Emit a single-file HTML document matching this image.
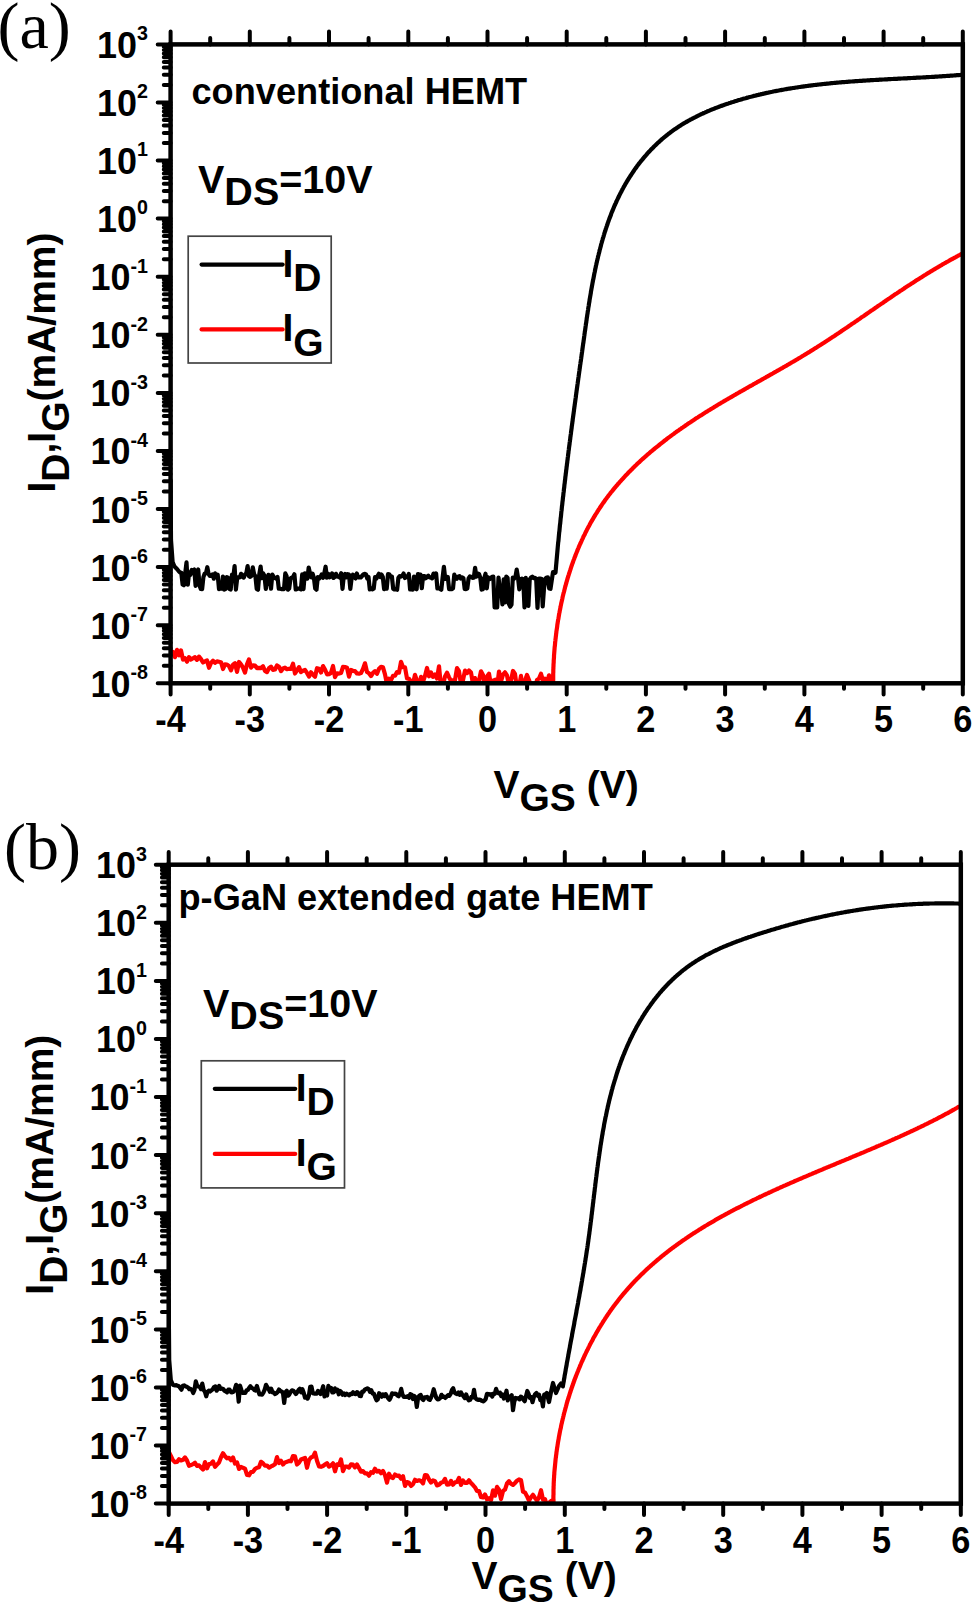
<!DOCTYPE html>
<html><head><meta charset="utf-8"><title>ID, IG vs VGS</title>
<style>html,body{margin:0;padding:0;background:#fff;width:974px;height:1605px;overflow:hidden}svg{display:block}</style>
</head><body>
<svg width="974" height="1605" viewBox="0 0 974 1605" font-family='"Liberation Sans", Arial, sans-serif' font-weight="bold" fill="#000">
<rect width="974" height="1605" fill="#fff"/>
<clipPath id="clipa"><rect x="170.6" y="44.4" width="792.2" height="638.9"/></clipPath>
<g clip-path="url(#clipa)" fill="none" stroke-width="4.2" stroke-linejoin="round" stroke-linecap="round">
<polyline stroke="#ff0000" points="171,651.7 173,651.8 175,657.2 177,649.9 179,655.4 181,650.4 183,659.6 185,658.3 187,661.7 189,657.2 191,659.6 193,658.3 195,657.2 197,659.9 199,656.6 201,659.1 203,662.5 205,661.4 207,660.4 209,667.8 211,662.9 213,660.8 215,662.9 217,661.4 219,661.8 221,662.2 223,669 225,664.4 227,664.5 229,666.2 231,670.3 233,664.7 235,663.2 237,671.9 239,662 241,664.3 243,667.6 245,672.6 247,664.2 249,659.4 251,667.6 253,665.3 255,665.6 257,668.1 259,667.8 261,668.1 263,666.2 265,670.9 267,672.1 269,668.2 271,666.6 273,669.8 275,669.5 277,665.4 279,666.7 281,671.1 283,668.5 285,667.7 287,669.2 289,668.8 291,669 293,663.7 295,673.5 297,670.3 299,667.1 301,672.1 303,670.8 305,670 307,672.9 309,676.6 311,672.3 313,674.8 315,676.7 317,668.2 319,668.8 321,672.5 323,666.1 325,669.5 327,674.3 329,674.1 331,672.9 333,666 335,677.1 337,673.3 339,673.6 341,673 343,666.9 345,667.1 347,667.8 349,676.6 351,670 353,671 355,671.2 357,673.5 359,673.7 361,673.1 363,668.9 365,663.3 367,672 369,673.2 371,676.1 373,672.8 375,671.1 377,673.8 379,668.7 381,666.9 383,667.4 385,674.3 387,684.4 389,678.7 391,680.2 393,675.8 395,675.7 397,672.1 399,672.7 401,661.8 403,667.2 405,667.4 407,678.5 409,678.8 411,681.5 413,684 415,674.8 417,681 419,686.4 421,676.9 423,681.8 425,675.9 427,668 429,676.3 431,672.4 433,676.9 435,674.6 437,678.5 439,666.3 441,686.9 443,685.3 445,676.4 447,672.7 449,677.1 451,681.1 453,680.3 455,680.1 457,668 459,671.2 461,684.3 463,680 465,670.6 467,673.1 469,670.5 471,672.5 473,684.1 475,678.1 477,684.5 479,680.4 481,671.3 483,674.9 485,690.7 487,676.4 489,673.6 491,685.4 493,680.7 495,679.8 497,687.5 499,671.5 501,681.4 503,674.7 505,672.3 507,675.3 509,686 511,680.4 513,671 515,674 517,688.2 519,687.1 521,675.9 523,693.4 525,680.5 527,674.9 529,680 531,686.2 533,690.5 535,687.9 537,680 539,678.6 541,673.8 543,680.7 545,678.7 547,683 549,675.4 551,678.6 552.6,690 553.2,690.1 553.2,688.8 553.2,687.6 553.2,686.3 553.1,685.1 553.1,683.8 553.1,682.6 553.1,681.3 553.2,680 553.2,678.8 553.2,677.5 553.2,676.2 553.2,675 553.2,673.7 553.3,672.4 553.3,671.2 553.3,669.9 553.4,668.6 553.4,667.4 553.5,666.1 553.5,664.8 553.6,663.5 553.7,662.3 553.7,661 553.8,659.7 553.9,658.4 554,657.1 554,655.9 554.1,654.6 554.2,653.3 554.3,652 554.4,650.8 554.5,649.5 554.6,648.2 554.7,646.9 554.9,645.6 555,644.3 555.1,643.1 555.2,641.8 555.4,640.5 555.5,639.2 555.7,637.9 555.8,636.7 556,635.4 556.1,634.1 556.3,632.8 556.4,631.5 556.6,630.3 556.8,629 557,627.7 557.2,626.4 557.3,625.1 557.5,623.9 557.7,622.6 557.9,621.3 558.1,620 558.4,618.7 558.6,617.5 558.8,616.2 559,614.9 559.2,613.6 559.5,612.4 559.7,611.1 560,609.8 560.2,608.6 560.5,607.3 560.7,606 561,604.8 561.2,603.5 561.5,602.2 561.8,601 562.1,599.7 562.4,598.4 562.6,597.2 562.9,595.9 563.2,594.7 563.5,593.4 563.9,592.1 564.2,590.9 564.5,589.6 564.8,588.4 565.1,587.1 565.5,585.9 565.8,584.7 566.2,583.4 566.5,582.2 566.9,580.9 567.2,579.7 567.6,578.5 568,577.2 568.3,576 568.7,574.8 569.1,573.5 569.5,572.3 569.9,571.1 570.3,569.9 570.7,568.6 571.1,567.4 571.5,566.2 571.9,565 572.3,563.8 572.8,562.6 573.2,561.4 573.6,560.2 574.1,559 574.5,557.8 575,556.6 575.5,555.4 575.9,554.2 576.4,553 576.9,551.8 577.4,550.6 577.8,549.4 578.3,548.3 578.8,547.1 579.3,545.9 579.8,544.7 580.4,543.6 580.9,542.4 581.4,541.3 581.9,540.1 582.5,538.9 583,537.8 583.5,536.6 584.1,535.5 584.7,534.4 585.2,533.2 585.8,532.1 586.4,531 586.9,529.8 587.5,528.7 588.1,527.6 588.7,526.5 589.3,525.4 589.9,524.2 590.5,523.1 591.1,522 591.8,520.9 592.4,519.8 593,518.8 593.7,517.7 594.3,516.6 595,515.5 595.6,514.4 596.3,513.4 597,512.3 597.6,511.2 598.3,510.2 599,509.1 599.7,508.1 600.4,507 601.1,506 601.8,504.9 602.5,503.9 603.2,502.9 604,501.9 604.7,500.8 605.4,499.8 606.2,498.8 606.9,497.8 607.7,496.8 608.4,495.8 609.2,494.8 610,493.8 610.7,492.8 611.5,491.8 612.3,490.9 613.1,489.9 613.9,488.9 614.7,487.9 615.5,487 616.3,486 617.1,485.1 617.9,484.1 618.8,483.2 619.6,482.2 620.4,481.3 621.3,480.3 622.1,479.4 623,478.5 623.8,477.6 624.7,476.6 625.5,475.7 626.4,474.8 627.3,473.9 628.1,473 629,472.1 629.9,471.2 630.8,470.3 631.7,469.4 632.6,468.5 633.5,467.6 634.4,466.7 635.3,465.8 636.2,465 637.1,464.1 638,463.2 639,462.4 639.9,461.5 640.8,460.6 641.7,459.8 642.7,458.9 643.6,458.1 644.6,457.2 645.5,456.4 646.5,455.6 647.4,454.7 648.4,453.9 649.4,453.1 650.3,452.2 651.3,451.4 652.3,450.6 653.2,449.8 654.2,449 655.2,448.2 656.2,447.4 657.2,446.6 658.2,445.8 659.2,445 660.2,444.2 661.2,443.4 662.2,442.6 663.2,441.8 664.2,441 665.2,440.2 666.2,439.5 667.2,438.7 668.2,437.9 669.3,437.1 670.3,436.4 671.3,435.6 672.3,434.9 673.4,434.1 674.4,433.3 675.4,432.6 676.5,431.8 677.5,431.1 678.6,430.4 679.6,429.6 680.7,428.9 681.7,428.1 682.8,427.4 683.8,426.7 684.9,426 685.9,425.2 687,424.5 688,423.8 689.1,423.1 690.2,422.4 691.2,421.7 692.3,420.9 693.4,420.2 694.5,419.5 695.5,418.8 696.6,418.1 697.7,417.4 698.7,416.7 699.8,416 700.9,415.4 702,414.7 703.1,414 704.2,413.3 705.2,412.6 706.3,411.9 707.4,411.3 708.5,410.6 709.6,409.9 710.7,409.2 711.8,408.6 712.9,407.9 714,407.2 715.1,406.6 716.1,405.9 717.2,405.3 718.3,404.6 719.4,403.9 720.5,403.3 721.6,402.6 722.7,402 723.8,401.3 724.9,400.7 726,400 727.1,399.4 728.3,398.7 729.4,398.1 730.5,397.4 731.6,396.8 732.7,396.2 733.8,395.5 734.9,394.9 736,394.2 737.1,393.6 738.2,393 739.3,392.3 740.4,391.7 741.6,391.1 742.7,390.4 743.8,389.8 744.9,389.2 746,388.5 747.1,387.9 748.2,387.3 749.3,386.6 750.4,386 751.6,385.4 752.7,384.8 753.8,384.1 754.9,383.5 756,382.9 757.1,382.2 758.2,381.6 759.4,381 760.5,380.4 761.6,379.7 762.7,379.1 763.8,378.5 764.9,377.9 766,377.2 767.1,376.6 768.3,376 769.4,375.3 770.5,374.7 771.6,374.1 772.7,373.5 773.8,372.8 774.9,372.2 776,371.6 777.1,370.9 778.2,370.3 779.4,369.7 780.5,369 781.6,368.4 782.7,367.8 783.8,367.1 784.9,366.5 786,365.9 787.1,365.2 788.2,364.6 789.3,363.9 790.4,363.3 791.5,362.6 792.6,362 793.7,361.4 794.8,360.7 795.9,360.1 797,359.4 798.1,358.8 799.2,358.1 800.3,357.5 801.4,356.8 802.4,356.1 803.5,355.5 804.6,354.8 805.7,354.2 806.8,353.5 807.9,352.8 809,352.2 810.1,351.5 811.1,350.8 812.2,350.2 813.3,349.5 814.4,348.8 815.5,348.1 816.5,347.5 817.6,346.8 818.7,346.1 819.7,345.4 820.8,344.7 821.9,344 823,343.4 824,342.7 825.1,342 826.2,341.3 827.2,340.6 828.3,339.9 829.3,339.2 830.4,338.5 831.5,337.8 832.5,337.1 833.6,336.4 834.7,335.7 835.7,335 836.8,334.3 837.8,333.6 838.9,332.9 839.9,332.2 841,331.5 842,330.7 843.1,330 844.2,329.3 845.2,328.6 846.3,327.9 847.3,327.2 848.4,326.5 849.4,325.7 850.5,325 851.5,324.3 852.6,323.6 853.6,322.9 854.7,322.2 855.7,321.4 856.8,320.7 857.8,320 858.9,319.3 859.9,318.6 860.9,317.8 862,317.1 863,316.4 864.1,315.7 865.1,315 866.2,314.2 867.2,313.5 868.3,312.8 869.3,312.1 870.4,311.3 871.4,310.6 872.5,309.9 873.5,309.2 874.6,308.5 875.6,307.7 876.7,307 877.7,306.3 878.8,305.6 879.8,304.9 880.9,304.1 881.9,303.4 883,302.7 884,302 885.1,301.3 886.1,300.5 887.2,299.8 888.2,299.1 889.3,298.4 890.3,297.7 891.4,297 892.4,296.2 893.5,295.5 894.5,294.8 895.6,294.1 896.7,293.4 897.7,292.7 898.8,292 899.8,291.3 900.9,290.6 902,289.9 903,289.2 904.1,288.5 905.1,287.7 906.2,287 907.3,286.3 908.3,285.6 909.4,285 910.5,284.3 911.5,283.6 912.6,282.9 913.7,282.2 914.8,281.5 915.8,280.8 916.9,280.1 918,279.4 919.1,278.7 920.1,278.1 921.2,277.4 922.3,276.7 923.4,276 924.5,275.3 925.5,274.7 926.6,274 927.7,273.3 928.8,272.7 929.9,272 931,271.3 932.1,270.7 933.2,270 934.3,269.3 935.4,268.7 936.5,268 937.6,267.4 938.7,266.7 939.8,266.1 940.9,265.4 942,264.8 943.1,264.1 944.2,263.5 945.3,262.9 946.4,262.2 947.6,261.6 948.7,261 949.8,260.3 950.9,259.7 952,259.1 953.2,258.5 954.3,257.9 955.4,257.3 956.6,256.6 957.7,256 958.8,255.4 960,254.8 961.1,254.2 962.3,253.6"/>
<polyline stroke="#000" points="170.6,480 171,540 172.6,562 174.5,566.5 177,569 179,571.5 180,572.4 181.3,572.7 182.6,584.4 183.9,585.2 185.2,573.5 186.5,562.4 187.8,584.7 189.1,572.5 190.4,574.8 191.7,570 193,570.6 194.3,569.5 195.6,585.8 196.9,573.6 198.2,569.4 199.5,585.5 200.8,589 202.1,589.2 203.4,577.1 204.7,573.5 206,573.3 207.3,567.2 208.6,574.1 209.9,575.9 211.2,576 212.5,574.4 213.8,578.7 215.1,573.4 216.4,576.1 217.7,574.7 219,589.1 220.3,588.5 221.6,588.6 222.9,576.5 224.2,589.6 225.5,589.1 226.8,577.2 228.1,577.7 229.4,589.1 230.7,589.5 232,574.6 233.3,577.2 234.6,566.1 235.9,589.6 237.2,577.9 238.5,577.2 239.8,577.4 241.1,573.8 242.4,576.8 243.7,577.6 245,574.6 246.3,573.4 247.6,566.1 248.9,576.1 250.2,576.8 251.5,575.8 252.8,567.4 254.1,574.2 255.4,576.1 256.7,588.9 258,589.7 259.3,574.3 260.6,566.5 261.9,578.2 263.2,573.3 264.5,576 265.8,588.9 267.1,578.7 268.4,574.8 269.7,578.6 271,588.7 272.3,574.5 273.6,576.8 274.9,578 276.2,578.7 277.5,577 278.8,588.7 280.1,588.7 281.4,589.1 282.7,589.2 284,589.1 285.3,573.3 286.6,576.1 287.9,589.6 289.2,588.4 290.5,578.4 291.8,577.7 293.1,576.9 294.4,574.3 295.7,589.5 297,589 298.3,588.6 299.6,588.7 300.9,589.4 302.2,574.4 303.5,589.1 304.8,573.4 306.1,575.9 307.4,578.5 308.7,567.5 310,573.5 311.3,577.4 312.6,573.7 313.9,577.8 315.2,588.5 316.5,589.7 317.8,577.1 319.1,578.7 320.4,577 321.7,574.5 323,577.8 324.3,573.3 325.6,566.7 326.9,577.7 328.2,573.8 329.5,577.3 330.8,576.4 332.1,573.4 333.4,577.9 334.7,577 336,573.8 337.3,576.6 338.6,576.5 339.9,577.6 341.2,573.2 342.5,588.9 343.8,575.8 345.1,573.9 346.4,577.4 347.7,574.2 349,574.6 350.3,588.9 351.6,578.3 352.9,574.7 354.2,577 355.5,578.4 356.8,573.5 358.1,577.3 359.4,577.3 360.7,577.5 362,576 363.3,574.5 364.6,573.9 365.9,574.2 367.2,578.5 368.5,577.1 369.8,589.5 371.1,588.3 372.4,589.3 373.7,588.7 375,577.2 376.3,578.7 377.6,576.1 378.9,573.8 380.2,577 381.5,574.5 382.8,577 384.1,589.1 385.4,588.3 386.7,588.7 388,574.2 389.3,574.3 390.6,576.3 391.9,576.5 393.2,588.9 394.5,589.5 395.8,589 397.1,589.7 398.4,577.8 399.7,576.1 401,576.7 402.3,575.7 403.6,573.5 404.9,578 406.2,576.7 407.5,577.1 408.8,574 410.1,589.5 411.4,589.5 412.7,589.6 414,576.7 415.3,588.4 416.6,589.2 417.9,574.1 419.2,574.5 420.5,574.6 421.8,588.2 423.1,576 424.4,576.2 425.7,578.3 427,576.8 428.3,575.7 429.6,577.4 430.9,577.5 432.2,578.4 433.5,573.6 434.8,576.6 436.1,573.4 437.4,588.5 438.7,588.4 440,588.9 441.3,589.7 442.6,577.8 443.9,566.8 445.2,578.8 446.5,576.7 447.8,577 449.1,589.1 450.4,589.1 451.7,589.1 453,588.4 454.3,574.7 455.6,577.4 456.9,578.7 458.2,576.7 459.5,576.1 460.8,578.5 462.1,577.4 463.4,578.1 464.7,588.9 466,589.1 467.3,588.6 468.6,578.3 469.9,576.3 471.2,576.9 472.5,577.9 473.8,577.7 475.1,567.8 476.4,576.7 477.7,573.6 479,574 480.3,577.8 481.6,589.6 482.9,589.2 484.2,578.5 485.5,573.7 486.8,588.3 488.1,577.3 489.4,579.3 490.7,578.3 492,576.8 493.3,576.7 494.6,607.5 495.9,607.3 497.2,607.4 498.5,577.6 499.8,588.8 501.1,588.7 502.4,604.4 503.7,579.3 505,602.5 506.3,576.7 507.6,577.8 508.9,603.8 510.2,606.7 511.5,604.6 512.8,577.5 514.1,578.6 515.4,577 516.7,569.5 518,577.5 519.3,589.3 520.6,579.2 521.9,578.6 523.2,579.2 524.5,607.3 525.8,577.9 527.1,588.8 528.4,605.8 529.7,579.4 531,577.6 532.3,576.7 533.6,578.2 534.9,577.8 536.2,579.2 537.5,607.8 538.8,578.7 540.1,578.7 541.4,578.8 542.7,606.4 544,588.4 545.3,578.8 546.6,577.5 547.9,577.4 549.2,588.4 550.5,588.8 553,572 555.1,572.9 555.5,572.7 555.6,571.5 555.7,570.4 555.8,569.3 555.9,568.1 556,567 556.1,565.9 556.2,564.7 556.3,563.6 556.4,562.5 556.5,561.3 556.6,560.2 556.7,559.1 556.8,558 556.9,556.8 557,555.7 557.1,554.6 557.2,553.5 557.3,552.3 557.4,551.2 557.5,550.1 557.6,549 557.7,547.9 557.8,546.7 557.9,545.6 558,544.5 558.1,543.4 558.2,542.3 558.4,541.2 558.5,540.1 558.6,539 558.7,537.8 558.8,536.7 558.9,535.6 559,534.5 559.1,533.4 559.2,532.3 559.4,531.2 559.5,530.1 559.6,529 559.7,527.9 559.8,526.8 559.9,525.7 560,524.6 560.2,523.5 560.3,522.4 560.4,521.3 560.5,520.2 560.6,519.1 560.7,518 560.9,516.9 561,515.8 561.1,514.7 561.2,513.6 561.3,512.5 561.4,511.4 561.6,510.3 561.7,509.2 561.8,508.1 561.9,507 562,506 562.2,504.9 562.3,503.8 562.4,502.7 562.5,501.6 562.7,500.5 562.8,499.4 562.9,498.3 563,497.2 563.2,496.2 563.3,495.1 563.4,494 563.5,492.9 563.7,491.8 563.8,490.7 563.9,489.7 564,488.6 564.2,487.5 564.3,486.4 564.4,485.3 564.5,484.3 564.7,483.2 564.8,482.1 564.9,481 565.1,479.9 565.2,478.9 565.3,477.8 565.4,476.7 565.6,475.6 565.7,474.5 565.8,473.5 566,472.4 566.1,471.3 566.2,470.2 566.4,469.2 566.5,468.1 566.6,467 566.8,465.9 566.9,464.9 567,463.8 567.2,462.7 567.3,461.6 567.4,460.6 567.6,459.5 567.7,458.4 567.8,457.3 568,456.3 568.1,455.2 568.2,454.1 568.4,453 568.5,452 568.6,450.9 568.8,449.8 568.9,448.8 569,447.7 569.2,446.6 569.3,445.5 569.5,444.5 569.6,443.4 569.7,442.3 569.9,441.3 570,440.2 570.2,439.1 570.3,438 570.4,437 570.6,435.9 570.7,434.8 570.9,433.8 571,432.7 571.1,431.6 571.3,430.5 571.4,429.5 571.6,428.4 571.7,427.3 571.8,426.3 572,425.2 572.1,424.1 572.3,423 572.4,422 572.6,420.9 572.7,419.8 572.8,418.8 573,417.7 573.1,416.6 573.3,415.5 573.4,414.5 573.6,413.4 573.7,412.3 573.9,411.2 574,410.2 574.1,409.1 574.3,408 574.4,407 574.6,405.9 574.7,404.8 574.9,403.7 575,402.7 575.2,401.6 575.3,400.5 575.5,399.4 575.6,398.4 575.8,397.3 575.9,396.2 576,395.1 576.2,394.1 576.3,393 576.5,391.9 576.6,390.8 576.8,389.7 576.9,388.7 577.1,387.6 577.2,386.5 577.4,385.4 577.5,384.3 577.7,383.3 577.8,382.2 578,381.1 578.1,380 578.3,378.9 578.4,377.9 578.6,376.8 578.7,375.7 578.9,374.6 579,373.5 579.2,372.4 579.3,371.4 579.5,370.3 579.6,369.2 579.8,368.1 579.9,367 580.1,365.9 580.2,364.8 580.4,363.8 580.5,362.7 580.7,361.6 580.9,360.5 581,359.4 581.2,358.3 581.3,357.2 581.5,356.1 581.6,355 581.8,353.9 581.9,352.9 582.1,351.8 582.2,350.7 582.4,349.6 582.5,348.5 582.7,347.4 582.8,346.3 583,345.2 583.1,344.1 583.3,343 583.5,341.9 583.6,340.8 583.8,339.7 583.9,338.6 584.1,337.5 584.2,336.4 584.4,335.3 584.5,334.2 584.7,333.1 584.8,331.9 585,330.8 585.2,329.7 585.3,328.6 585.5,327.5 585.6,326.4 585.8,325.3 585.9,324.2 586.1,323.1 586.3,322 586.4,320.9 586.6,319.8 586.7,318.6 586.9,317.5 587.1,316.4 587.2,315.3 587.4,314.2 587.6,313.1 587.7,312 587.9,310.9 588.1,309.8 588.2,308.7 588.4,307.5 588.6,306.4 588.8,305.3 588.9,304.2 589.1,303.1 589.3,302 589.5,300.9 589.6,299.8 589.8,298.7 590,297.6 590.2,296.4 590.4,295.3 590.6,294.2 590.8,293.1 590.9,292 591.1,290.9 591.3,289.8 591.5,288.7 591.7,287.6 591.9,286.5 592.1,285.4 592.3,284.3 592.5,283.2 592.7,282.1 592.9,281 593.1,279.9 593.4,278.8 593.6,277.7 593.8,276.6 594,275.5 594.2,274.4 594.4,273.3 594.7,272.2 594.9,271.1 595.1,270 595.3,268.9 595.6,267.8 595.8,266.7 596,265.6 596.3,264.5 596.5,263.4 596.8,262.3 597,261.2 597.3,260.2 597.5,259.1 597.8,258 598,256.9 598.3,255.8 598.6,254.7 598.8,253.7 599.1,252.6 599.4,251.5 599.6,250.4 599.9,249.4 600.2,248.3 600.5,247.2 600.8,246.2 601,245.1 601.3,244 601.6,243 601.9,241.9 602.2,240.8 602.5,239.8 602.8,238.7 603.1,237.7 603.5,236.6 603.8,235.5 604.1,234.5 604.4,233.4 604.7,232.4 605.1,231.3 605.4,230.3 605.7,229.3 606.1,228.2 606.4,227.2 606.8,226.1 607.1,225.1 607.5,224.1 607.8,223 608.2,222 608.6,221 608.9,220 609.3,218.9 609.7,217.9 610.1,216.9 610.5,215.9 610.9,214.9 611.2,213.8 611.6,212.8 612,211.8 612.5,210.8 612.9,209.8 613.3,208.8 613.7,207.8 614.1,206.8 614.5,205.8 615,204.8 615.4,203.9 615.9,202.9 616.3,201.9 616.7,200.9 617.2,199.9 617.7,198.9 618.1,198 618.6,197 619.1,196 619.5,195.1 620,194.1 620.5,193.1 621,192.2 621.5,191.2 622,190.3 622.5,189.3 623,188.4 623.5,187.4 624,186.5 624.6,185.6 625.1,184.6 625.6,183.7 626.2,182.8 626.7,181.8 627.3,180.9 627.8,180 628.4,179.1 629,178.2 629.5,177.3 630.1,176.4 630.7,175.5 631.3,174.6 631.9,173.7 632.5,172.8 633.1,171.9 633.7,171 634.3,170.1 634.9,169.2 635.5,168.3 636.2,167.5 636.8,166.6 637.4,165.7 638.1,164.9 638.7,164 639.4,163.2 640.1,162.3 640.7,161.5 641.4,160.6 642.1,159.8 642.8,159 643.5,158.1 644.1,157.3 644.8,156.5 645.6,155.7 646.3,154.9 647,154 647.7,153.2 648.4,152.4 649.2,151.7 649.9,150.9 650.6,150.1 651.4,149.3 652.1,148.5 652.9,147.8 653.6,147 654.4,146.2 655.2,145.5 656,144.7 656.7,144 657.5,143.2 658.3,142.5 659.1,141.8 659.9,141.1 660.7,140.3 661.5,139.6 662.3,138.9 663.2,138.2 664,137.5 664.8,136.8 665.7,136.1 666.5,135.5 667.3,134.8 668.2,134.1 669.1,133.5 669.9,132.8 670.8,132.1 671.7,131.5 672.5,130.9 673.4,130.2 674.3,129.6 675.2,129 676.1,128.4 677,127.8 677.9,127.2 678.8,126.6 679.7,126 680.6,125.4 681.5,124.8 682.5,124.2 683.4,123.7 684.3,123.1 685.3,122.6 686.2,122 687.2,121.5 688.1,120.9 689.1,120.4 690,119.9 691,119.3 692,118.8 692.9,118.3 693.9,117.8 694.9,117.3 695.9,116.8 696.8,116.3 697.8,115.8 698.8,115.3 699.8,114.9 700.8,114.4 701.8,113.9 702.8,113.5 703.8,113 704.8,112.6 705.8,112.1 706.8,111.7 707.8,111.2 708.9,110.8 709.9,110.4 710.9,109.9 711.9,109.5 712.9,109.1 714,108.7 715,108.3 716,107.9 717.1,107.5 718.1,107.1 719.1,106.7 720.2,106.3 721.2,105.9 722.3,105.6 723.3,105.2 724.4,104.8 725.4,104.4 726.4,104.1 727.5,103.7 728.5,103.4 729.6,103 730.6,102.7 731.7,102.3 732.8,102 733.8,101.7 734.9,101.3 735.9,101 737,100.7 738,100.3 739.1,100 740.2,99.7 741.2,99.4 742.3,99.1 743.3,98.8 744.4,98.5 745.5,98.2 746.5,97.9 747.6,97.6 748.7,97.3 749.7,97 750.8,96.8 751.9,96.5 752.9,96.2 754,95.9 755.1,95.7 756.2,95.4 757.2,95.1 758.3,94.9 759.4,94.6 760.4,94.4 761.5,94.1 762.6,93.9 763.7,93.6 764.7,93.4 765.8,93.1 766.9,92.9 768,92.7 769,92.4 770.1,92.2 771.2,92 772.3,91.8 773.4,91.5 774.4,91.3 775.5,91.1 776.6,90.9 777.7,90.7 778.8,90.5 779.8,90.3 780.9,90.1 782,89.9 783.1,89.7 784.2,89.5 785.3,89.3 786.4,89.1 787.4,88.9 788.5,88.7 789.6,88.6 790.7,88.4 791.8,88.2 792.9,88 794,87.9 795.1,87.7 796.1,87.5 797.2,87.4 798.3,87.2 799.4,87 800.5,86.9 801.6,86.7 802.7,86.6 803.8,86.4 804.9,86.3 806,86.1 807.1,86 808.1,85.8 809.2,85.7 810.3,85.6 811.4,85.4 812.5,85.3 813.6,85.1 814.7,85 815.8,84.9 816.9,84.8 818,84.6 819.1,84.5 820.2,84.4 821.3,84.3 822.4,84.1 823.5,84 824.6,83.9 825.7,83.8 826.8,83.7 827.9,83.6 829,83.5 830.1,83.3 831.2,83.2 832.3,83.1 833.4,83 834.5,82.9 835.6,82.8 836.7,82.7 837.8,82.6 838.9,82.5 840,82.4 841.1,82.3 842.1,82.2 843.2,82.2 844.3,82.1 845.4,82 846.5,81.9 847.6,81.8 848.7,81.7 849.8,81.6 850.9,81.5 852,81.5 853.1,81.4 854.2,81.3 855.3,81.2 856.4,81.1 857.5,81.1 858.6,81 859.7,80.9 860.8,80.8 861.9,80.8 863,80.7 864.1,80.6 865.2,80.6 866.3,80.5 867.4,80.4 868.5,80.3 869.6,80.3 870.7,80.2 871.8,80.1 872.9,80.1 874,80 875.1,80 876.2,79.9 877.3,79.8 878.4,79.8 879.5,79.7 880.6,79.6 881.7,79.6 882.8,79.5 883.9,79.5 885,79.4 886.1,79.3 887.2,79.3 888.3,79.2 889.4,79.2 890.5,79.1 891.6,79 892.7,79 893.8,78.9 894.9,78.9 896,78.8 897.1,78.8 898.2,78.7 899.3,78.6 900.4,78.6 901.5,78.5 902.6,78.5 903.7,78.4 904.8,78.4 905.9,78.3 906.9,78.3 908,78.2 909.1,78.1 910.2,78.1 911.3,78 912.4,78 913.5,77.9 914.6,77.9 915.7,77.8 916.8,77.7 917.9,77.7 919,77.6 920,77.6 921.1,77.5 922.2,77.5 923.3,77.4 924.4,77.3 925.5,77.3 926.6,77.2 927.7,77.1 928.7,77.1 929.8,77 930.9,77 932,76.9 933.1,76.8 934.2,76.8 935.2,76.7 936.3,76.6 937.4,76.6 938.5,76.5 939.6,76.4 940.7,76.4 941.7,76.3 942.8,76.2 943.9,76.2 945,76.1 946,76 947.1,75.9 948.2,75.9 949.3,75.8 950.4,75.7 951.4,75.6 952.5,75.6 953.6,75.5 954.7,75.4 955.7,75.3 956.8,75.2 957.9,75.2 958.9,75.1 960,75 961.1,74.9 962.1,74.8"/>
</g>
<path d="M170.6,683.3v11.3M170.6,44.4v-12.8M210.2,683.3v5.5M210.2,44.4v-6.4M249.8,683.3v11.3M249.8,44.4v-12.8M289.4,683.3v5.5M289.4,44.4v-6.4M329,683.3v11.3M329,44.4v-12.8M368.6,683.3v5.5M368.6,44.4v-6.4M408.3,683.3v11.3M408.3,44.4v-12.8M447.9,683.3v5.5M447.9,44.4v-6.4M487.5,683.3v11.3M487.5,44.4v-12.8M527.1,683.3v5.5M527.1,44.4v-6.4M566.7,683.3v11.3M566.7,44.4v-12.8M606.3,683.3v5.5M606.3,44.4v-6.4M645.9,683.3v11.3M645.9,44.4v-12.8M685.5,683.3v5.5M685.5,44.4v-6.4M725.1,683.3v11.3M725.1,44.4v-12.8M764.8,683.3v5.5M764.8,44.4v-6.4M804.4,683.3v11.3M804.4,44.4v-12.8M844,683.3v5.5M844,44.4v-6.4M883.6,683.3v11.3M883.6,44.4v-12.8M923.2,683.3v5.5M923.2,44.4v-6.4M962.8,683.3v11.3M962.8,44.4v-12.8M170.6,665.8h-6.8M170.6,655.6h-6.8M170.6,648.3h-6.8M170.6,642.7h-6.8M170.6,638.1h-6.8M170.6,634.2h-6.8M170.6,630.8h-6.8M170.6,627.9h-6.8M170.6,607.7h-6.8M170.6,597.5h-6.8M170.6,590.2h-6.8M170.6,584.6h-6.8M170.6,580h-6.8M170.6,576.1h-6.8M170.6,572.8h-6.8M170.6,569.8h-6.8M170.6,549.7h-6.8M170.6,539.4h-6.8M170.6,532.2h-6.8M170.6,526.5h-6.8M170.6,521.9h-6.8M170.6,518.1h-6.8M170.6,514.7h-6.8M170.6,511.7h-6.8M170.6,491.6h-6.8M170.6,481.3h-6.8M170.6,474.1h-6.8M170.6,468.5h-6.8M170.6,463.9h-6.8M170.6,460h-6.8M170.6,456.6h-6.8M170.6,453.6h-6.8M170.6,433.5h-6.8M170.6,423.3h-6.8M170.6,416h-6.8M170.6,410.4h-6.8M170.6,405.8h-6.8M170.6,401.9h-6.8M170.6,398.5h-6.8M170.6,395.5h-6.8M170.6,375.4h-6.8M170.6,365.2h-6.8M170.6,357.9h-6.8M170.6,352.3h-6.8M170.6,347.7h-6.8M170.6,343.8h-6.8M170.6,340.4h-6.8M170.6,337.5h-6.8M170.6,317.3h-6.8M170.6,307.1h-6.8M170.6,299.8h-6.8M170.6,294.2h-6.8M170.6,289.6h-6.8M170.6,285.7h-6.8M170.6,282.4h-6.8M170.6,279.4h-6.8M170.6,259.2h-6.8M170.6,249h-6.8M170.6,241.8h-6.8M170.6,236.1h-6.8M170.6,231.5h-6.8M170.6,227.6h-6.8M170.6,224.3h-6.8M170.6,221.3h-6.8M170.6,201.2h-6.8M170.6,190.9h-6.8M170.6,183.7h-6.8M170.6,178h-6.8M170.6,173.4h-6.8M170.6,169.6h-6.8M170.6,166.2h-6.8M170.6,163.2h-6.8M170.6,143.1h-6.8M170.6,132.9h-6.8M170.6,125.6h-6.8M170.6,120h-6.8M170.6,115.4h-6.8M170.6,111.5h-6.8M170.6,108.1h-6.8M170.6,105.1h-6.8M170.6,85h-6.8M170.6,74.8h-6.8M170.6,67.5h-6.8M170.6,61.9h-6.8M170.6,57.3h-6.8M170.6,53.4h-6.8M170.6,50h-6.8M170.6,47.1h-6.8M170.6,683.3h-12.9M170.6,625.2h-12.9M170.6,567.1h-12.9M170.6,509.1h-12.9M170.6,451h-12.9M170.6,392.9h-12.9M170.6,334.8h-12.9M170.6,276.7h-12.9M170.6,218.6h-12.9M170.6,160.6h-12.9M170.6,102.5h-12.9M170.6,44.4h-12.9" stroke="#000" stroke-width="4.0" stroke-linecap="round" fill="none"/>
<rect x="170.6" y="44.4" width="792.2" height="638.9" fill="none" stroke="#000" stroke-width="4.5"/>
<text transform="translate(148,696.7) scale(0.985,1.035)" text-anchor="end" font-size="36.5">10<tspan font-size="20" dy="-17">-8</tspan></text>
<text transform="translate(148,638.6) scale(0.985,1.035)" text-anchor="end" font-size="36.5">10<tspan font-size="20" dy="-17">-7</tspan></text>
<text transform="translate(148,580.5) scale(0.985,1.035)" text-anchor="end" font-size="36.5">10<tspan font-size="20" dy="-17">-6</tspan></text>
<text transform="translate(148,522.5) scale(0.985,1.035)" text-anchor="end" font-size="36.5">10<tspan font-size="20" dy="-17">-5</tspan></text>
<text transform="translate(148,464.4) scale(0.985,1.035)" text-anchor="end" font-size="36.5">10<tspan font-size="20" dy="-17">-4</tspan></text>
<text transform="translate(148,406.3) scale(0.985,1.035)" text-anchor="end" font-size="36.5">10<tspan font-size="20" dy="-17">-3</tspan></text>
<text transform="translate(148,348.2) scale(0.985,1.035)" text-anchor="end" font-size="36.5">10<tspan font-size="20" dy="-17">-2</tspan></text>
<text transform="translate(148,290.1) scale(0.985,1.035)" text-anchor="end" font-size="36.5">10<tspan font-size="20" dy="-17">-1</tspan></text>
<text transform="translate(148,232) scale(0.985,1.035)" text-anchor="end" font-size="36.5">10<tspan font-size="20" dy="-17">0</tspan></text>
<text transform="translate(148,174) scale(0.985,1.035)" text-anchor="end" font-size="36.5">10<tspan font-size="20" dy="-17">1</tspan></text>
<text transform="translate(148,115.9) scale(0.985,1.035)" text-anchor="end" font-size="36.5">10<tspan font-size="20" dy="-17">2</tspan></text>
<text transform="translate(148,57.8) scale(0.985,1.035)" text-anchor="end" font-size="36.5">10<tspan font-size="20" dy="-17">3</tspan></text>
<text transform="translate(170.6,732.3) scale(0.98,1.04)" text-anchor="middle" font-size="35">-4</text>
<text transform="translate(249.8,732.3) scale(0.98,1.04)" text-anchor="middle" font-size="35">-3</text>
<text transform="translate(329,732.3) scale(0.98,1.04)" text-anchor="middle" font-size="35">-2</text>
<text transform="translate(408.3,732.3) scale(0.98,1.04)" text-anchor="middle" font-size="35">-1</text>
<text transform="translate(487.5,732.3) scale(0.98,1.04)" text-anchor="middle" font-size="35">0</text>
<text transform="translate(566.7,732.3) scale(0.98,1.04)" text-anchor="middle" font-size="35">1</text>
<text transform="translate(645.9,732.3) scale(0.98,1.04)" text-anchor="middle" font-size="35">2</text>
<text transform="translate(725.1,732.3) scale(0.98,1.04)" text-anchor="middle" font-size="35">3</text>
<text transform="translate(804.4,732.3) scale(0.98,1.04)" text-anchor="middle" font-size="35">4</text>
<text transform="translate(883.6,732.3) scale(0.98,1.04)" text-anchor="middle" font-size="35">5</text>
<text transform="translate(962.8,732.3) scale(0.98,1.04)" text-anchor="middle" font-size="35">6</text>
<text x="493.5" y="797.5" font-size="39">V<tspan dy="13">GS</tspan><tspan dy="-13"> (V)</tspan></text>
<text transform="translate(55.2,492.5) rotate(-90)" font-size="39">I<tspan dy="14">D</tspan><tspan dy="-14">,I</tspan><tspan dy="14">G</tspan><tspan dy="-14">(mA/mm)</tspan></text>
<text transform="translate(191.5,103.6) scale(1.005,1.03)" font-size="36">conventional HEMT</text>
<text x="198" y="193.1" font-size="39.5">V<tspan dy="12">DS</tspan><tspan dy="-12">=10V</tspan></text>
<rect x="188.2" y="236.2" width="143" height="126.8" fill="none" stroke="#444" stroke-width="1.7"/>
<line x1="201.6" y1="264.6" x2="282.6" y2="264.6" stroke="#000" stroke-width="4.2" stroke-linecap="round"/>
<text x="282.5" y="276.6" font-size="39">I<tspan dy="14.1">D</tspan></text>
<line x1="201.6" y1="329.4" x2="282.6" y2="329.4" stroke="#ff0000" stroke-width="4.2" stroke-linecap="round"/>
<text x="282.5" y="341.4" font-size="39">I<tspan dy="14.1">G</tspan></text>
<text x="-2.5" y="48.3" font-family='"Liberation Serif", "Times New Roman", serif' font-weight="normal" font-size="66">(a)</text>
<clipPath id="clipb"><rect x="168.7" y="864.7" width="792.1" height="638.9"/></clipPath>
<g clip-path="url(#clipb)" fill="none" stroke-width="4.2" stroke-linejoin="round" stroke-linecap="round">
<polyline stroke="#ff0000" points="169,1452.2 171,1456.1 173,1460.3 175,1462.1 177,1461.9 179,1459.2 181,1460.5 183,1459.8 185,1457.4 187,1460.5 189,1465.8 191,1465.1 193,1464.2 195,1462.8 197,1465.9 199,1465.3 201,1467.5 203,1469.6 205,1462.1 207,1468.3 209,1464.1 211,1463.7 213,1461.4 215,1466.8 217,1464.6 219,1462.5 221,1457.3 223,1453.3 225,1456.2 227,1458.3 229,1457.8 231,1460.2 233,1457.4 235,1463.6 237,1462.4 239,1468.9 241,1466.9 243,1467.8 245,1468.6 247,1474.9 249,1475.3 251,1472 253,1471.8 255,1469 257,1467.7 259,1467.2 261,1461.8 263,1463.2 265,1465.7 267,1465.5 269,1467.7 271,1466.4 273,1465.5 275,1464.2 277,1457.1 279,1463.1 281,1460.8 283,1464.5 285,1462.4 287,1461.8 289,1460.9 291,1461.3 293,1456.1 295,1456.4 297,1464.5 299,1462.7 301,1459.5 303,1458.7 305,1457.9 307,1467.8 309,1460 311,1457.5 313,1456.6 315,1452.7 317,1460.8 319,1466.4 321,1466.8 323,1466 325,1464.5 327,1463.1 329,1466.6 331,1465.5 333,1463.3 335,1471.3 337,1464.4 339,1464.9 341,1459.5 343,1471.1 345,1466.7 347,1466.5 349,1467.6 351,1464.4 353,1464.7 355,1467.4 357,1464.5 359,1468.1 361,1471.6 363,1471.1 365,1473.5 367,1473.3 369,1475.7 371,1472.2 373,1472.8 375,1468.8 377,1471.6 379,1470.8 381,1473.2 383,1471 385,1475.1 387,1482.6 389,1473.7 391,1477.2 393,1478 395,1474.5 397,1475.8 399,1475.6 401,1478.7 403,1476.2 405,1485.9 407,1482.1 409,1482.8 411,1486 413,1484.2 415,1479.8 417,1480.9 419,1480.3 421,1481 423,1483.4 425,1475 427,1475.3 429,1479.5 431,1482.5 433,1480.3 435,1481.2 437,1485.4 439,1484.8 441,1482.7 443,1482.1 445,1478.9 447,1484.6 449,1484.4 451,1480.9 453,1484.7 455,1482.3 457,1482 459,1477.9 461,1484.9 463,1480.5 465,1483 467,1482.9 469,1480.3 471,1483.1 473,1485.1 475,1487.3 477,1491 479,1491 481,1497 483,1497.5 485,1494.4 487,1499.4 489,1498.2 491,1500.3 493,1490.4 495,1495.7 497,1486.9 499,1489.7 501,1499.1 503,1490.9 505,1489.6 507,1483.5 509,1481.2 511,1483.7 513,1484.9 515,1483 517,1480.7 519,1479.4 521,1480.2 523,1491.6 525,1492.6 527,1496.2 529,1500.7 531,1497.3 533,1494.8 535,1497.9 537,1500.6 539,1497.3 541,1490.2 543,1499.7 545,1499.2 547,1506.1 549,1502.9 551,1501.1 553.8,1512 553.7,1511 553.7,1510 553.7,1509 553.6,1508 553.6,1506.9 553.6,1505.9 553.5,1504.9 553.5,1503.9 553.5,1502.9 553.5,1501.8 553.5,1500.8 553.5,1499.8 553.4,1498.8 553.4,1497.7 553.4,1496.7 553.4,1495.7 553.5,1494.7 553.5,1493.6 553.5,1492.6 553.5,1491.6 553.5,1490.5 553.5,1489.5 553.6,1488.5 553.6,1487.4 553.6,1486.4 553.7,1485.4 553.7,1484.3 553.7,1483.3 553.8,1482.3 553.8,1481.2 553.9,1480.2 553.9,1479.2 554,1478.1 554.1,1477.1 554.1,1476.1 554.2,1475 554.3,1474 554.3,1473 554.4,1471.9 554.5,1470.9 554.6,1469.8 554.7,1468.8 554.8,1467.8 554.9,1466.7 555,1465.7 555.1,1464.6 555.2,1463.6 555.3,1462.6 555.4,1461.5 555.5,1460.5 555.6,1459.4 555.7,1458.4 555.9,1457.4 556,1456.3 556.1,1455.3 556.3,1454.2 556.4,1453.2 556.5,1452.2 556.7,1451.1 556.8,1450.1 557,1449 557.1,1448 557.3,1447 557.5,1445.9 557.6,1444.9 557.8,1443.9 557.9,1442.8 558.1,1441.8 558.3,1440.7 558.5,1439.7 558.7,1438.7 558.8,1437.6 559,1436.6 559.2,1435.6 559.4,1434.5 559.6,1433.5 559.8,1432.4 560,1431.4 560.2,1430.4 560.4,1429.3 560.7,1428.3 560.9,1427.3 561.1,1426.2 561.3,1425.2 561.5,1424.2 561.8,1423.2 562,1422.1 562.2,1421.1 562.5,1420.1 562.7,1419 563,1418 563.2,1417 563.5,1416 563.7,1414.9 564,1413.9 564.2,1412.9 564.5,1411.9 564.8,1410.8 565.1,1409.8 565.3,1408.8 565.6,1407.8 565.9,1406.8 566.2,1405.7 566.5,1404.7 566.7,1403.7 567,1402.7 567.3,1401.7 567.6,1400.7 567.9,1399.6 568.2,1398.6 568.6,1397.6 568.9,1396.6 569.2,1395.6 569.5,1394.6 569.8,1393.6 570.1,1392.6 570.5,1391.6 570.8,1390.6 571.1,1389.6 571.5,1388.6 571.8,1387.6 572.2,1386.6 572.5,1385.6 572.9,1384.6 573.2,1383.6 573.6,1382.6 573.9,1381.6 574.3,1380.6 574.6,1379.6 575,1378.6 575.4,1377.6 575.8,1376.6 576.1,1375.7 576.5,1374.7 576.9,1373.7 577.3,1372.7 577.7,1371.7 578.1,1370.8 578.5,1369.8 578.9,1368.8 579.3,1367.8 579.7,1366.9 580.1,1365.9 580.5,1364.9 580.9,1364 581.3,1363 581.7,1362 582.2,1361.1 582.6,1360.1 583,1359.2 583.5,1358.2 583.9,1357.2 584.3,1356.3 584.8,1355.3 585.2,1354.4 585.7,1353.4 586.1,1352.5 586.6,1351.6 587,1350.6 587.5,1349.7 588,1348.7 588.4,1347.8 588.9,1346.9 589.4,1345.9 589.8,1345 590.3,1344.1 590.8,1343.1 591.3,1342.2 591.8,1341.3 592.3,1340.4 592.8,1339.5 593.2,1338.5 593.7,1337.6 594.3,1336.7 594.8,1335.8 595.3,1334.9 595.8,1334 596.3,1333.1 596.8,1332.2 597.3,1331.3 597.9,1330.4 598.4,1329.5 598.9,1328.6 599.4,1327.7 600,1326.8 600.5,1325.9 601.1,1325.1 601.6,1324.2 602.2,1323.3 602.7,1322.4 603.3,1321.5 603.8,1320.7 604.4,1319.8 604.9,1318.9 605.5,1318.1 606.1,1317.2 606.6,1316.4 607.2,1315.5 607.8,1314.6 608.4,1313.8 609,1312.9 609.5,1312.1 610.1,1311.3 610.7,1310.4 611.3,1309.6 611.9,1308.7 612.5,1307.9 613.1,1307.1 613.7,1306.3 614.3,1305.4 615,1304.6 615.6,1303.8 616.2,1303 616.8,1302.2 617.4,1301.4 618.1,1300.5 618.7,1299.7 619.3,1298.9 620,1298.1 620.6,1297.3 621.3,1296.6 621.9,1295.8 622.5,1295 623.2,1294.2 623.9,1293.4 624.5,1292.6 625.2,1291.9 625.8,1291.1 626.5,1290.3 627.2,1289.5 627.8,1288.8 628.5,1288 629.2,1287.3 629.9,1286.5 630.5,1285.8 631.2,1285 631.9,1284.3 632.6,1283.5 633.3,1282.8 634,1282 634.7,1281.3 635.4,1280.6 636.1,1279.8 636.8,1279.1 637.5,1278.4 638.2,1277.7 639,1277 639.7,1276.2 640.4,1275.5 641.1,1274.8 641.8,1274.1 642.6,1273.4 643.3,1272.7 644,1272 644.8,1271.3 645.5,1270.6 646.2,1269.9 647,1269.2 647.7,1268.5 648.5,1267.8 649.2,1267.2 650,1266.5 650.7,1265.8 651.5,1265.1 652.2,1264.5 653,1263.8 653.8,1263.1 654.5,1262.5 655.3,1261.8 656.1,1261.1 656.9,1260.5 657.6,1259.8 658.4,1259.2 659.2,1258.5 660,1257.9 660.8,1257.2 661.5,1256.6 662.3,1255.9 663.1,1255.3 663.9,1254.7 664.7,1254 665.5,1253.4 666.3,1252.8 667.1,1252.1 667.9,1251.5 668.7,1250.9 669.5,1250.3 670.3,1249.6 671.2,1249 672,1248.4 672.8,1247.8 673.6,1247.2 674.4,1246.6 675.3,1246 676.1,1245.4 676.9,1244.8 677.7,1244.2 678.6,1243.6 679.4,1243 680.2,1242.4 681.1,1241.8 681.9,1241.2 682.8,1240.6 683.6,1240 684.4,1239.5 685.3,1238.9 686.1,1238.3 687,1237.7 687.8,1237.1 688.7,1236.6 689.5,1236 690.4,1235.4 691.3,1234.9 692.1,1234.3 693,1233.7 693.9,1233.2 694.7,1232.6 695.6,1232.1 696.5,1231.5 697.3,1231 698.2,1230.4 699.1,1229.8 699.9,1229.3 700.8,1228.8 701.7,1228.2 702.6,1227.7 703.5,1227.1 704.4,1226.6 705.2,1226 706.1,1225.5 707,1225 707.9,1224.4 708.8,1223.9 709.7,1223.4 710.6,1222.9 711.5,1222.3 712.4,1221.8 713.3,1221.3 714.2,1220.8 715.1,1220.2 716,1219.7 716.9,1219.2 717.8,1218.7 718.7,1218.2 719.6,1217.7 720.5,1217.2 721.4,1216.7 722.3,1216.1 723.3,1215.6 724.2,1215.1 725.1,1214.6 726,1214.1 726.9,1213.6 727.9,1213.1 728.8,1212.6 729.7,1212.1 730.6,1211.7 731.5,1211.2 732.5,1210.7 733.4,1210.2 734.3,1209.7 735.3,1209.2 736.2,1208.7 737.1,1208.2 738.1,1207.8 739,1207.3 739.9,1206.8 740.9,1206.3 741.8,1205.8 742.7,1205.4 743.7,1204.9 744.6,1204.4 745.6,1203.9 746.5,1203.5 747.5,1203 748.4,1202.5 749.3,1202.1 750.3,1201.6 751.2,1201.1 752.2,1200.7 753.1,1200.2 754.1,1199.7 755,1199.3 756,1198.8 756.9,1198.4 757.9,1197.9 758.8,1197.5 759.8,1197 760.8,1196.5 761.7,1196.1 762.7,1195.6 763.6,1195.2 764.6,1194.7 765.6,1194.3 766.5,1193.8 767.5,1193.4 768.4,1193 769.4,1192.5 770.4,1192.1 771.3,1191.6 772.3,1191.2 773.3,1190.7 774.2,1190.3 775.2,1189.9 776.2,1189.4 777.1,1189 778.1,1188.5 779.1,1188.1 780,1187.7 781,1187.2 782,1186.8 782.9,1186.4 783.9,1185.9 784.9,1185.5 785.9,1185.1 786.8,1184.6 787.8,1184.2 788.8,1183.8 789.8,1183.4 790.7,1182.9 791.7,1182.5 792.7,1182.1 793.7,1181.7 794.6,1181.2 795.6,1180.8 796.6,1180.4 797.6,1180 798.5,1179.5 799.5,1179.1 800.5,1178.7 801.5,1178.3 802.4,1177.9 803.4,1177.4 804.4,1177 805.4,1176.6 806.4,1176.2 807.3,1175.8 808.3,1175.4 809.3,1174.9 810.3,1174.5 811.3,1174.1 812.2,1173.7 813.2,1173.3 814.2,1172.9 815.2,1172.5 816.2,1172 817.1,1171.6 818.1,1171.2 819.1,1170.8 820.1,1170.4 821.1,1170 822,1169.6 823,1169.2 824,1168.7 825,1168.3 826,1167.9 826.9,1167.5 827.9,1167.1 828.9,1166.7 829.9,1166.3 830.9,1165.9 831.8,1165.5 832.8,1165.1 833.8,1164.7 834.8,1164.3 835.8,1163.8 836.7,1163.4 837.7,1163 838.7,1162.6 839.7,1162.2 840.7,1161.8 841.6,1161.4 842.6,1161 843.6,1160.6 844.6,1160.2 845.5,1159.8 846.5,1159.4 847.5,1159 848.5,1158.6 849.4,1158.2 850.4,1157.8 851.4,1157.3 852.4,1156.9 853.3,1156.5 854.3,1156.1 855.3,1155.7 856.3,1155.3 857.2,1154.9 858.2,1154.5 859.2,1154.1 860.1,1153.7 861.1,1153.3 862.1,1152.9 863.1,1152.5 864,1152.1 865,1151.6 866,1151.2 866.9,1150.8 867.9,1150.4 868.9,1150 869.8,1149.6 870.8,1149.2 871.7,1148.8 872.7,1148.4 873.7,1148 874.6,1147.6 875.6,1147.2 876.5,1146.7 877.5,1146.3 878.5,1145.9 879.4,1145.5 880.4,1145.1 881.3,1144.7 882.3,1144.3 883.2,1143.9 884.2,1143.4 885.2,1143 886.1,1142.6 887.1,1142.2 888,1141.8 889,1141.4 889.9,1141 890.8,1140.5 891.8,1140.1 892.7,1139.7 893.7,1139.3 894.6,1138.9 895.6,1138.4 896.5,1138 897.5,1137.6 898.4,1137.2 899.3,1136.8 900.3,1136.3 901.2,1135.9 902.1,1135.5 903.1,1135.1 904,1134.6 904.9,1134.2 905.9,1133.8 906.8,1133.4 907.7,1132.9 908.7,1132.5 909.6,1132.1 910.5,1131.7 911.4,1131.2 912.4,1130.8 913.3,1130.4 914.2,1129.9 915.1,1129.5 916,1129.1 916.9,1128.6 917.9,1128.2 918.8,1127.7 919.7,1127.3 920.6,1126.9 921.5,1126.4 922.4,1126 923.3,1125.6 924.2,1125.1 925.1,1124.7 926,1124.2 926.9,1123.8 927.8,1123.3 928.7,1122.9 929.6,1122.4 930.5,1122 931.4,1121.5 932.3,1121.1 933.2,1120.6 934.1,1120.2 935,1119.7 935.9,1119.3 936.8,1118.8 937.6,1118.4 938.5,1117.9 939.4,1117.4 940.3,1117 941.2,1116.5 942,1116.1 942.9,1115.6 943.8,1115.1 944.6,1114.7 945.5,1114.2 946.4,1113.7 947.2,1113.3 948.1,1112.8 949,1112.3 949.8,1111.9 950.7,1111.4 951.6,1110.9 952.4,1110.4 953.3,1109.9 954.1,1109.5 955,1109 955.8,1108.5 956.7,1108 957.5,1107.5 958.3,1107 959.2,1106.6"/>
<polyline stroke="#000" points="168.7,1300 169.2,1360 170.8,1380 173,1385 175,1385.3 176.3,1385.2 177.6,1385.8 178.9,1386.3 180.2,1388 181.5,1389.7 182.8,1385.8 184.1,1385.4 185.4,1386.2 186.7,1386.7 188,1387.5 189.3,1389.2 190.6,1388.9 191.9,1389.9 193.2,1393 194.5,1389.9 195.8,1381.3 197.1,1385.7 198.4,1386.6 199.7,1386.8 201,1389.1 202.3,1383.6 203.6,1390 204.9,1391.7 206.2,1396.3 207.5,1392 208.8,1390.6 210.1,1391.5 211.4,1390.4 212.7,1389.4 214,1387.1 215.3,1386.5 216.6,1390.7 217.9,1388.8 219.2,1385.9 220.5,1388.9 221.8,1388.5 223.1,1388.9 224.4,1390.6 225.7,1391.4 227,1392.4 228.3,1389.7 229.6,1389.7 230.9,1392.1 232.2,1392.4 233.5,1391.9 234.8,1389.4 236.1,1384.8 237.4,1388.1 238.7,1401.7 240,1385.5 241.3,1389.7 242.6,1393 243.9,1393 245.2,1392.9 246.5,1390.5 247.8,1389.9 249.1,1388.1 250.4,1386.3 251.7,1388 253,1388.4 254.3,1390 255.6,1390.5 256.9,1385.9 258.2,1390.5 259.5,1394.5 260.8,1394.5 262.1,1394.7 263.4,1392.7 264.7,1389.7 266,1384.8 267.3,1387 268.6,1389.1 269.9,1391.7 271.2,1388.6 272.5,1392.3 273.8,1392.5 275.1,1394.1 276.4,1393.2 277.7,1391.9 279,1389.5 280.3,1390.9 281.6,1391.6 282.9,1392.3 284.2,1402.9 285.5,1392.1 286.8,1390.7 288.1,1395.7 289.4,1394.4 290.7,1391.9 292,1390.3 293.3,1390.7 294.6,1392.2 295.9,1394.1 297.2,1392.2 298.5,1390 299.8,1388.7 301.1,1392.4 302.4,1389.2 303.7,1392.7 305,1397.6 306.3,1396.9 307.6,1398.6 308.9,1395.5 310.2,1386.9 311.5,1386.7 312.8,1393.2 314.1,1393.6 315.4,1393.5 316.7,1393.6 318,1390.9 319.3,1392.1 320.6,1394 321.9,1390.6 323.2,1386.2 324.5,1396.4 325.8,1394 327.1,1395.4 328.4,1385.9 329.7,1389.3 331,1387.9 332.3,1392.5 333.6,1392.5 334.9,1388.3 336.2,1391 337.5,1389.8 338.8,1394.3 340.1,1390.9 341.4,1392.3 342.7,1394.7 344,1393.5 345.3,1395 346.6,1393.6 347.9,1394.7 349.2,1395.3 350.5,1393.8 351.8,1394.1 353.1,1392.3 354.4,1393.8 355.7,1394.2 357,1392.1 358.3,1393 359.6,1396 360.9,1396.1 362.2,1391.7 363.5,1391.6 364.8,1389.6 366.1,1389 367.4,1388.3 368.7,1389 370,1391.9 371.3,1390.2 372.6,1393.6 373.9,1393.6 375.2,1397.2 376.5,1400.3 377.8,1399.3 379.1,1393.2 380.4,1394.7 381.7,1396.7 383,1394.4 384.3,1396 385.6,1394.1 386.9,1396.4 388.2,1398.3 389.5,1399.7 390.8,1397.2 392.1,1393.3 393.4,1394.1 394.7,1393.6 396,1393.8 397.3,1395.5 398.6,1396.3 399.9,1394.1 401.2,1388.9 402.5,1394.7 403.8,1396.8 405.1,1396.8 406.4,1396.8 407.7,1396.2 409,1397.8 410.3,1394.1 411.6,1394.6 412.9,1399 414.2,1395.9 415.5,1397.3 416.8,1407 418.1,1397.7 419.4,1395.6 420.7,1395 422,1398.8 423.3,1400.1 424.6,1397.3 425.9,1397.5 427.2,1396.9 428.5,1399.3 429.8,1399.9 431.1,1397.5 432.4,1394.2 433.7,1389.2 435,1393.9 436.3,1397.9 437.6,1399.4 438.9,1399.1 440.2,1398 441.5,1394.8 442.8,1396.8 444.1,1396.7 445.4,1397.9 446.7,1396.5 448,1395.1 449.3,1395.9 450.6,1393.9 451.9,1390.1 453.2,1388.3 454.5,1392.6 455.8,1393.5 457.1,1394.1 458.4,1392.5 459.7,1394.8 461,1392.4 462.3,1394.8 463.6,1396.4 464.9,1398.1 466.2,1394.4 467.5,1398.4 468.8,1400.4 470.1,1399.9 471.4,1396.9 472.7,1397.3 474,1389.8 475.3,1397.9 476.6,1399.3 477.9,1399.8 479.2,1399.7 480.5,1399.8 481.8,1400.9 483.1,1401.4 484.4,1400.5 485.7,1399.1 487,1393.8 488.3,1394 489.6,1394.6 490.9,1394.2 492.2,1396.6 493.5,1393.7 494.8,1393.8 496.1,1388.9 497.4,1392.7 498.7,1393.3 500,1392.7 501.3,1396.2 502.6,1394.4 503.9,1398.5 505.2,1396.2 506.5,1390.7 507.8,1400.4 509.1,1396.7 510.4,1396.7 511.7,1395.3 513,1410.2 514.3,1401.5 515.6,1398 516.9,1398.5 518.2,1398.2 519.5,1399.3 520.8,1396.6 522.1,1397.5 523.4,1399.6 524.7,1401.2 526,1396.2 527.3,1391 528.6,1393.9 529.9,1397.9 531.2,1397.2 532.5,1402.1 533.8,1397.1 535.1,1394.2 536.4,1393 537.7,1395.7 539,1394.6 540.3,1400.1 541.6,1398.3 542.9,1406.4 544.2,1394.7 545.5,1394.8 546.8,1393 549,1402 551,1392 553,1383 556,1393 559,1386 561,1383.5 562.9,1386.4 563,1385.3 563.2,1384.3 563.4,1383.2 563.6,1382.2 563.8,1381.1 563.9,1380.1 564.1,1379 564.3,1378 564.5,1376.9 564.6,1375.9 564.8,1374.8 565,1373.8 565.2,1372.8 565.4,1371.7 565.6,1370.7 565.7,1369.6 565.9,1368.6 566.1,1367.6 566.3,1366.5 566.5,1365.5 566.7,1364.4 566.8,1363.4 567,1362.4 567.2,1361.3 567.4,1360.3 567.6,1359.3 567.8,1358.2 568,1357.2 568.2,1356.2 568.3,1355.1 568.5,1354.1 568.7,1353.1 568.9,1352 569.1,1351 569.3,1350 569.5,1348.9 569.7,1347.9 569.9,1346.9 570,1345.8 570.2,1344.8 570.4,1343.8 570.6,1342.7 570.8,1341.7 571,1340.7 571.2,1339.7 571.4,1338.6 571.6,1337.6 571.8,1336.6 572,1335.6 572.1,1334.5 572.3,1333.5 572.5,1332.5 572.7,1331.4 572.9,1330.4 573.1,1329.4 573.3,1328.4 573.5,1327.3 573.7,1326.3 573.9,1325.3 574.1,1324.3 574.3,1323.2 574.4,1322.2 574.6,1321.2 574.8,1320.2 575,1319.1 575.2,1318.1 575.4,1317.1 575.6,1316.1 575.8,1315.1 576,1314 576.2,1313 576.4,1312 576.5,1311 576.7,1309.9 576.9,1308.9 577.1,1307.9 577.3,1306.9 577.5,1305.8 577.7,1304.8 577.9,1303.8 578.1,1302.8 578.2,1301.8 578.4,1300.7 578.6,1299.7 578.8,1298.7 579,1297.7 579.2,1296.6 579.4,1295.6 579.5,1294.6 579.7,1293.6 579.9,1292.6 580.1,1291.5 580.3,1290.5 580.5,1289.5 580.6,1288.5 580.8,1287.4 581,1286.4 581.2,1285.4 581.4,1284.4 581.5,1283.3 581.7,1282.3 581.9,1281.3 582.1,1280.3 582.2,1279.2 582.4,1278.2 582.6,1277.2 582.8,1276.2 582.9,1275.1 583.1,1274.1 583.3,1273.1 583.5,1272.1 583.6,1271 583.8,1270 584,1269 584.1,1268 584.3,1266.9 584.5,1265.9 584.6,1264.9 584.8,1263.8 585,1262.8 585.1,1261.8 585.3,1260.8 585.5,1259.7 585.6,1258.7 585.8,1257.7 586,1256.6 586.1,1255.6 586.3,1254.6 586.4,1253.5 586.6,1252.5 586.7,1251.5 586.9,1250.4 587.1,1249.4 587.2,1248.4 587.4,1247.3 587.5,1246.3 587.7,1245.3 587.8,1244.2 588,1243.2 588.1,1242.2 588.3,1241.1 588.4,1240.1 588.5,1239.1 588.7,1238 588.8,1237 589,1235.9 589.1,1234.9 589.3,1233.9 589.4,1232.8 589.5,1231.8 589.7,1230.7 589.8,1229.7 589.9,1228.6 590.1,1227.6 590.2,1226.6 590.3,1225.5 590.5,1224.5 590.6,1223.4 590.7,1222.4 590.9,1221.3 591,1220.3 591.1,1219.3 591.3,1218.2 591.4,1217.2 591.5,1216.1 591.6,1215.1 591.8,1214 591.9,1213 592,1211.9 592.2,1210.9 592.3,1209.8 592.4,1208.8 592.5,1207.7 592.7,1206.7 592.8,1205.6 592.9,1204.6 593,1203.5 593.2,1202.5 593.3,1201.4 593.4,1200.4 593.5,1199.3 593.7,1198.3 593.8,1197.3 593.9,1196.2 594,1195.2 594.2,1194.1 594.3,1193.1 594.4,1192 594.6,1191 594.7,1189.9 594.8,1188.9 594.9,1187.8 595.1,1186.8 595.2,1185.7 595.3,1184.7 595.4,1183.6 595.6,1182.6 595.7,1181.5 595.8,1180.5 596,1179.4 596.1,1178.4 596.2,1177.3 596.4,1176.3 596.5,1175.2 596.6,1174.2 596.8,1173.1 596.9,1172.1 597,1171 597.2,1170 597.3,1168.9 597.4,1167.9 597.6,1166.8 597.7,1165.8 597.9,1164.7 598,1163.7 598.1,1162.6 598.3,1161.6 598.4,1160.6 598.6,1159.5 598.7,1158.5 598.9,1157.4 599,1156.4 599.2,1155.3 599.3,1154.3 599.5,1153.2 599.6,1152.2 599.8,1151.2 599.9,1150.1 600.1,1149.1 600.2,1148 600.4,1147 600.5,1145.9 600.7,1144.9 600.9,1143.9 601,1142.8 601.2,1141.8 601.4,1140.7 601.5,1139.7 601.7,1138.7 601.9,1137.6 602,1136.6 602.2,1135.6 602.4,1134.5 602.6,1133.5 602.7,1132.4 602.9,1131.4 603.1,1130.4 603.3,1129.3 603.5,1128.3 603.7,1127.3 603.9,1126.2 604,1125.2 604.2,1124.2 604.4,1123.1 604.6,1122.1 604.8,1121.1 605,1120.1 605.2,1119 605.4,1118 605.6,1117 605.9,1116 606.1,1114.9 606.3,1113.9 606.5,1112.9 606.7,1111.9 606.9,1110.8 607.1,1109.8 607.4,1108.8 607.6,1107.8 607.8,1106.7 608.1,1105.7 608.3,1104.7 608.5,1103.7 608.8,1102.7 609,1101.7 609.2,1100.6 609.5,1099.6 609.7,1098.6 610,1097.6 610.2,1096.6 610.5,1095.6 610.8,1094.6 611,1093.6 611.3,1092.6 611.5,1091.6 611.8,1090.5 612.1,1089.5 612.4,1088.5 612.6,1087.5 612.9,1086.5 613.2,1085.5 613.5,1084.5 613.8,1083.5 614.1,1082.5 614.4,1081.5 614.7,1080.5 615,1079.5 615.3,1078.6 615.6,1077.6 615.9,1076.6 616.2,1075.6 616.5,1074.6 616.8,1073.6 617.1,1072.6 617.5,1071.6 617.8,1070.6 618.1,1069.6 618.5,1068.7 618.8,1067.7 619.1,1066.7 619.5,1065.7 619.8,1064.7 620.2,1063.8 620.5,1062.8 620.9,1061.8 621.3,1060.8 621.6,1059.9 622,1058.9 622.4,1057.9 622.7,1057 623.1,1056 623.5,1055 623.9,1054.1 624.3,1053.1 624.7,1052.1 625.1,1051.2 625.5,1050.2 625.9,1049.2 626.3,1048.3 626.7,1047.3 627.1,1046.4 627.5,1045.4 628,1044.5 628.4,1043.5 628.8,1042.6 629.3,1041.6 629.7,1040.7 630.1,1039.8 630.6,1038.8 631,1037.9 631.5,1037 632,1036 632.4,1035.1 632.9,1034.2 633.3,1033.2 633.8,1032.3 634.3,1031.4 634.8,1030.5 635.3,1029.6 635.8,1028.6 636.2,1027.7 636.7,1026.8 637.2,1025.9 637.7,1025 638.3,1024.1 638.8,1023.2 639.3,1022.3 639.8,1021.4 640.3,1020.5 640.9,1019.6 641.4,1018.8 641.9,1017.9 642.5,1017 643,1016.1 643.6,1015.2 644.1,1014.4 644.7,1013.5 645.2,1012.6 645.8,1011.8 646.4,1010.9 646.9,1010.1 647.5,1009.2 648.1,1008.3 648.7,1007.5 649.3,1006.7 649.9,1005.8 650.4,1005 651.1,1004.1 651.7,1003.3 652.3,1002.5 652.9,1001.7 653.5,1000.8 654.1,1000 654.8,999.2 655.4,998.4 656,997.6 656.7,996.8 657.3,996 658,995.2 658.6,994.4 659.3,993.6 659.9,992.8 660.6,992.1 661.3,991.3 661.9,990.5 662.6,989.8 663.3,989 664,988.2 664.7,987.5 665.4,986.7 666.1,986 666.8,985.2 667.5,984.5 668.2,983.8 668.9,983 669.6,982.3 670.4,981.6 671.1,980.9 671.8,980.2 672.6,979.5 673.3,978.7 674.1,978.1 674.8,977.4 675.6,976.7 676.4,976 677.1,975.3 677.9,974.6 678.7,974 679.5,973.3 680.3,972.6 681,972 681.8,971.3 682.6,970.7 683.4,970 684.3,969.4 685.1,968.8 685.9,968.2 686.7,967.5 687.5,966.9 688.4,966.3 689.2,965.7 690.1,965.1 690.9,964.5 691.8,963.9 692.6,963.3 693.5,962.8 694.4,962.2 695.2,961.6 696.1,961.1 697,960.5 697.9,960 698.8,959.4 699.7,958.9 700.6,958.3 701.5,957.8 702.4,957.3 703.3,956.8 704.2,956.3 705.1,955.7 706.1,955.2 707,954.7 707.9,954.3 708.9,953.8 709.8,953.3 710.7,952.8 711.7,952.3 712.6,951.9 713.6,951.4 714.6,950.9 715.5,950.5 716.5,950 717.4,949.6 718.4,949.1 719.4,948.7 720.4,948.2 721.3,947.8 722.3,947.4 723.3,946.9 724.3,946.5 725.3,946.1 726.3,945.7 727.3,945.3 728.3,944.9 729.3,944.5 730.3,944.1 731.3,943.7 732.3,943.3 733.3,942.9 734.3,942.5 735.3,942.1 736.3,941.7 737.3,941.3 738.3,941 739.3,940.6 740.4,940.2 741.4,939.9 742.4,939.5 743.4,939.1 744.4,938.8 745.4,938.4 746.5,938.1 747.5,937.7 748.5,937.3 749.5,937 750.6,936.7 751.6,936.3 752.6,936 753.6,935.6 754.7,935.3 755.7,934.9 756.7,934.6 757.7,934.3 758.7,933.9 759.8,933.6 760.8,933.3 761.8,933 762.8,932.6 763.9,932.3 764.9,932 765.9,931.7 766.9,931.4 768,931 769,930.7 770,930.4 771,930.1 772,929.8 773.1,929.5 774.1,929.2 775.1,928.9 776.1,928.6 777.1,928.3 778.2,928 779.2,927.7 780.2,927.4 781.2,927.1 782.2,926.8 783.3,926.5 784.3,926.2 785.3,925.9 786.3,925.6 787.3,925.4 788.4,925.1 789.4,924.8 790.4,924.5 791.4,924.2 792.4,924 793.4,923.7 794.5,923.4 795.5,923.1 796.5,922.9 797.5,922.6 798.5,922.3 799.5,922.1 800.6,921.8 801.6,921.6 802.6,921.3 803.6,921 804.6,920.8 805.6,920.5 806.7,920.3 807.7,920 808.7,919.8 809.7,919.5 810.7,919.3 811.7,919.1 812.7,918.8 813.8,918.6 814.8,918.4 815.8,918.1 816.8,917.9 817.8,917.7 818.8,917.4 819.8,917.2 820.8,917 821.9,916.7 822.9,916.5 823.9,916.3 824.9,916.1 825.9,915.9 826.9,915.7 827.9,915.4 829,915.2 830,915 831,914.8 832,914.6 833,914.4 834,914.2 835,914 836.1,913.8 837.1,913.6 838.1,913.4 839.1,913.2 840.1,913 841.1,912.8 842.1,912.7 843.2,912.5 844.2,912.3 845.2,912.1 846.2,911.9 847.2,911.7 848.2,911.6 849.3,911.4 850.3,911.2 851.3,911 852.3,910.9 853.3,910.7 854.3,910.5 855.4,910.4 856.4,910.2 857.4,910.1 858.4,909.9 859.4,909.7 860.4,909.6 861.5,909.4 862.5,909.3 863.5,909.1 864.5,909 865.5,908.8 866.6,908.7 867.6,908.6 868.6,908.4 869.6,908.3 870.7,908.2 871.7,908 872.7,907.9 873.7,907.8 874.8,907.6 875.8,907.5 876.8,907.4 877.8,907.3 878.9,907.1 879.9,907 880.9,906.9 881.9,906.8 883,906.7 884,906.6 885,906.4 886,906.3 887.1,906.2 888.1,906.1 889.1,906 890.2,905.9 891.2,905.8 892.2,905.7 893.3,905.6 894.3,905.5 895.3,905.5 896.4,905.4 897.4,905.3 898.4,905.2 899.5,905.1 900.5,905 901.6,905 902.6,904.9 903.6,904.8 904.7,904.7 905.7,904.7 906.8,904.6 907.8,904.5 908.8,904.5 909.9,904.4 910.9,904.3 912,904.3 913,904.2 914.1,904.2 915.1,904.1 916.2,904 917.2,904 918.3,903.9 919.3,903.9 920.4,903.9 921.4,903.8 922.5,903.8 923.5,903.7 924.6,903.7 925.6,903.7 926.7,903.6 927.7,903.6 928.8,903.6 929.9,903.5 930.9,903.5 932,903.5 933,903.5 934.1,903.5 935.2,903.4 936.2,903.4 937.3,903.4 938.4,903.4 939.4,903.4 940.5,903.4 941.6,903.4 942.6,903.4 943.7,903.4 944.8,903.4 945.8,903.4 946.9,903.4 948,903.4 949.1,903.4 950.1,903.4 951.2,903.4 952.3,903.4 953.4,903.4 954.5,903.5 955.5,903.5 956.6,903.5 957.7,903.5 958.8,903.6 959.9,903.6 961,903.6"/>
</g>
<path d="M168.7,1503.6v11.3M168.7,864.7v-12.8M208.3,1503.6v5.5M208.3,864.7v-6.4M247.9,1503.6v11.3M247.9,864.7v-12.8M287.5,1503.6v5.5M287.5,864.7v-6.4M327.1,1503.6v11.3M327.1,864.7v-12.8M366.7,1503.6v5.5M366.7,864.7v-6.4M406.3,1503.6v11.3M406.3,864.7v-12.8M445.9,1503.6v5.5M445.9,864.7v-6.4M485.5,1503.6v11.3M485.5,864.7v-12.8M525.1,1503.6v5.5M525.1,864.7v-6.4M564.8,1503.6v11.3M564.8,864.7v-12.8M604.4,1503.6v5.5M604.4,864.7v-6.4M644,1503.6v11.3M644,864.7v-12.8M683.6,1503.6v5.5M683.6,864.7v-6.4M723.2,1503.6v11.3M723.2,864.7v-12.8M762.8,1503.6v5.5M762.8,864.7v-6.4M802.4,1503.6v11.3M802.4,864.7v-12.8M842,1503.6v5.5M842,864.7v-6.4M881.6,1503.6v11.3M881.6,864.7v-12.8M921.2,1503.6v5.5M921.2,864.7v-6.4M960.8,1503.6v11.3M960.8,864.7v-12.8M168.7,1486.1h-6.8M168.7,1475.9h-6.8M168.7,1468.6h-6.8M168.7,1463h-6.8M168.7,1458.4h-6.8M168.7,1454.5h-6.8M168.7,1451.1h-6.8M168.7,1448.2h-6.8M168.7,1428h-6.8M168.7,1417.8h-6.8M168.7,1410.5h-6.8M168.7,1404.9h-6.8M168.7,1400.3h-6.8M168.7,1396.4h-6.8M168.7,1393.1h-6.8M168.7,1390.1h-6.8M168.7,1370h-6.8M168.7,1359.7h-6.8M168.7,1352.5h-6.8M168.7,1346.8h-6.8M168.7,1342.2h-6.8M168.7,1338.4h-6.8M168.7,1335h-6.8M168.7,1332h-6.8M168.7,1311.9h-6.8M168.7,1301.6h-6.8M168.7,1294.4h-6.8M168.7,1288.8h-6.8M168.7,1284.2h-6.8M168.7,1280.3h-6.8M168.7,1276.9h-6.8M168.7,1273.9h-6.8M168.7,1253.8h-6.8M168.7,1243.6h-6.8M168.7,1236.3h-6.8M168.7,1230.7h-6.8M168.7,1226.1h-6.8M168.7,1222.2h-6.8M168.7,1218.8h-6.8M168.7,1215.8h-6.8M168.7,1195.7h-6.8M168.7,1185.5h-6.8M168.7,1178.2h-6.8M168.7,1172.6h-6.8M168.7,1168h-6.8M168.7,1164.1h-6.8M168.7,1160.7h-6.8M168.7,1157.8h-6.8M168.7,1137.6h-6.8M168.7,1127.4h-6.8M168.7,1120.1h-6.8M168.7,1114.5h-6.8M168.7,1109.9h-6.8M168.7,1106h-6.8M168.7,1102.7h-6.8M168.7,1099.7h-6.8M168.7,1079.5h-6.8M168.7,1069.3h-6.8M168.7,1062.1h-6.8M168.7,1056.4h-6.8M168.7,1051.8h-6.8M168.7,1047.9h-6.8M168.7,1044.6h-6.8M168.7,1041.6h-6.8M168.7,1021.5h-6.8M168.7,1011.2h-6.8M168.7,1004h-6.8M168.7,998.3h-6.8M168.7,993.7h-6.8M168.7,989.9h-6.8M168.7,986.5h-6.8M168.7,983.5h-6.8M168.7,963.4h-6.8M168.7,953.2h-6.8M168.7,945.9h-6.8M168.7,940.3h-6.8M168.7,935.7h-6.8M168.7,931.8h-6.8M168.7,928.4h-6.8M168.7,925.4h-6.8M168.7,905.3h-6.8M168.7,895.1h-6.8M168.7,887.8h-6.8M168.7,882.2h-6.8M168.7,877.6h-6.8M168.7,873.7h-6.8M168.7,870.3h-6.8M168.7,867.4h-6.8M168.7,1503.6h-12.9M168.7,1445.5h-12.9M168.7,1387.4h-12.9M168.7,1329.4h-12.9M168.7,1271.3h-12.9M168.7,1213.2h-12.9M168.7,1155.1h-12.9M168.7,1097h-12.9M168.7,1038.9h-12.9M168.7,980.9h-12.9M168.7,922.8h-12.9M168.7,864.7h-12.9" stroke="#000" stroke-width="4.0" stroke-linecap="round" fill="none"/>
<rect x="168.7" y="864.7" width="792.1" height="638.9" fill="none" stroke="#000" stroke-width="4.5"/>
<text transform="translate(147,1517) scale(0.985,1.035)" text-anchor="end" font-size="36.5">10<tspan font-size="20" dy="-17">-8</tspan></text>
<text transform="translate(147,1458.9) scale(0.985,1.035)" text-anchor="end" font-size="36.5">10<tspan font-size="20" dy="-17">-7</tspan></text>
<text transform="translate(147,1400.8) scale(0.985,1.035)" text-anchor="end" font-size="36.5">10<tspan font-size="20" dy="-17">-6</tspan></text>
<text transform="translate(147,1342.8) scale(0.985,1.035)" text-anchor="end" font-size="36.5">10<tspan font-size="20" dy="-17">-5</tspan></text>
<text transform="translate(147,1284.7) scale(0.985,1.035)" text-anchor="end" font-size="36.5">10<tspan font-size="20" dy="-17">-4</tspan></text>
<text transform="translate(147,1226.6) scale(0.985,1.035)" text-anchor="end" font-size="36.5">10<tspan font-size="20" dy="-17">-3</tspan></text>
<text transform="translate(147,1168.5) scale(0.985,1.035)" text-anchor="end" font-size="36.5">10<tspan font-size="20" dy="-17">-2</tspan></text>
<text transform="translate(147,1110.4) scale(0.985,1.035)" text-anchor="end" font-size="36.5">10<tspan font-size="20" dy="-17">-1</tspan></text>
<text transform="translate(147,1052.3) scale(0.985,1.035)" text-anchor="end" font-size="36.5">10<tspan font-size="20" dy="-17">0</tspan></text>
<text transform="translate(147,994.3) scale(0.985,1.035)" text-anchor="end" font-size="36.5">10<tspan font-size="20" dy="-17">1</tspan></text>
<text transform="translate(147,936.2) scale(0.985,1.035)" text-anchor="end" font-size="36.5">10<tspan font-size="20" dy="-17">2</tspan></text>
<text transform="translate(147,878.1) scale(0.985,1.035)" text-anchor="end" font-size="36.5">10<tspan font-size="20" dy="-17">3</tspan></text>
<text transform="translate(168.7,1552.6) scale(0.98,1.04)" text-anchor="middle" font-size="35">-4</text>
<text transform="translate(247.9,1552.6) scale(0.98,1.04)" text-anchor="middle" font-size="35">-3</text>
<text transform="translate(327.1,1552.6) scale(0.98,1.04)" text-anchor="middle" font-size="35">-2</text>
<text transform="translate(406.3,1552.6) scale(0.98,1.04)" text-anchor="middle" font-size="35">-1</text>
<text transform="translate(485.5,1552.6) scale(0.98,1.04)" text-anchor="middle" font-size="35">0</text>
<text transform="translate(564.8,1552.6) scale(0.98,1.04)" text-anchor="middle" font-size="35">1</text>
<text transform="translate(644,1552.6) scale(0.98,1.04)" text-anchor="middle" font-size="35">2</text>
<text transform="translate(723.2,1552.6) scale(0.98,1.04)" text-anchor="middle" font-size="35">3</text>
<text transform="translate(802.4,1552.6) scale(0.98,1.04)" text-anchor="middle" font-size="35">4</text>
<text transform="translate(881.6,1552.6) scale(0.98,1.04)" text-anchor="middle" font-size="35">5</text>
<text transform="translate(960.8,1552.6) scale(0.98,1.04)" text-anchor="middle" font-size="35">6</text>
<text x="471.5" y="1588.8" font-size="39">V<tspan dy="13">GS</tspan><tspan dy="-13"> (V)</tspan></text>
<text transform="translate(53.3,1294.7) rotate(-90)" font-size="39">I<tspan dy="14">D</tspan><tspan dy="-14">,I</tspan><tspan dy="14">G</tspan><tspan dy="-14">(mA/mm)</tspan></text>
<text transform="translate(178.5,910) scale(1.005,1.03)" font-size="36">p-GaN extended gate HEMT</text>
<text x="203" y="1017" font-size="39.5">V<tspan dy="12">DS</tspan><tspan dy="-12">=10V</tspan></text>
<rect x="201.3" y="1060.8" width="143.2" height="127.1" fill="none" stroke="#444" stroke-width="1.7"/>
<line x1="214.8" y1="1088.8" x2="295.2" y2="1088.8" stroke="#000" stroke-width="4.2" stroke-linecap="round"/>
<text x="295.7" y="1100.8" font-size="39">I<tspan dy="14.1">D</tspan></text>
<line x1="214.8" y1="1153.9" x2="295.2" y2="1153.9" stroke="#ff0000" stroke-width="4.2" stroke-linecap="round"/>
<text x="295.7" y="1165.9" font-size="39">I<tspan dy="14.1">G</tspan></text>
<text x="4" y="869" font-family='"Liberation Serif", "Times New Roman", serif' font-weight="normal" font-size="66">(b)</text>
</svg>
</body></html>
